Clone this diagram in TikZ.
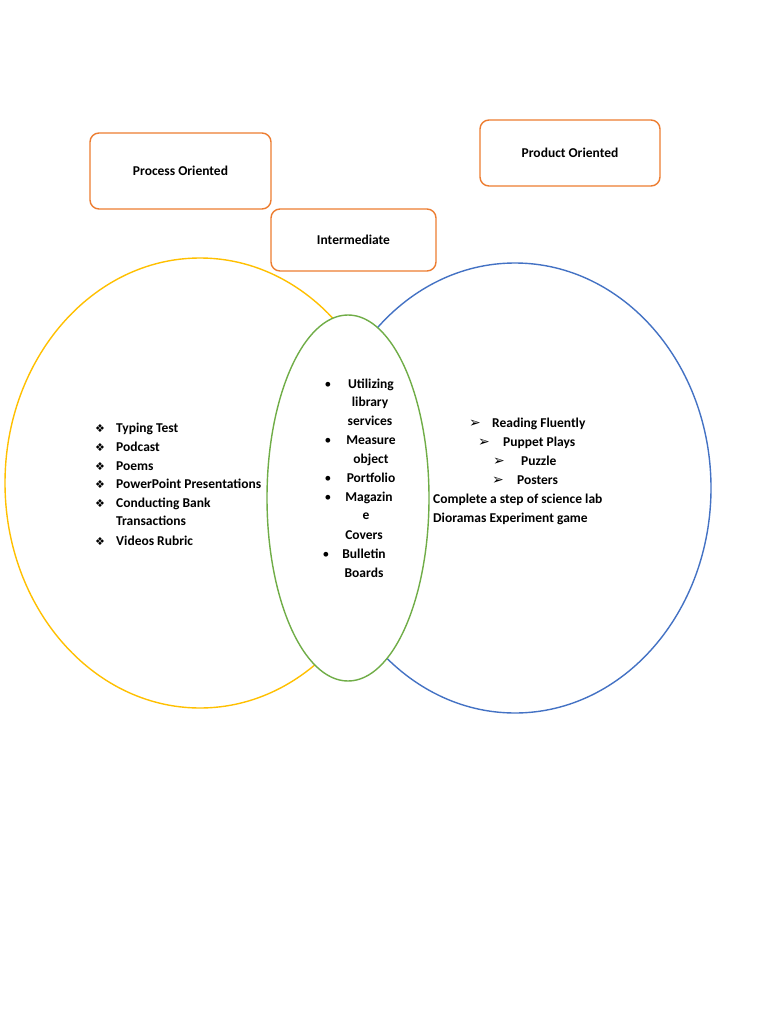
\documentclass[tikz,border=0pt]{standalone}
\usepackage{fontspec}
\setmainfont{Carlito}
\newfontfamily\symfont{DejaVu Sans}
\definecolor{ygold}{HTML}{FFC000}
\definecolor{vblue}{HTML}{4472C4}
\definecolor{vgreen}{HTML}{70AD47}
\definecolor{borange}{HTML}{ED7D31}
\tikzset{
  labelbox/.style={draw=borange, line width=1.4pt, rounded corners=9pt, fill=white, font=\fontsize{13.5}{15}\selectfont\bfseries},
  vcircle/.style={line width=1.4pt},
  txt/.style={anchor=base west, inner sep=0pt, font=\fontsize{13.5}{15}\selectfont\bfseries},
  ctxt/.style={anchor=base, inner sep=0pt, font=\fontsize{13.5}{15}\selectfont\bfseries},
  sym/.style={anchor=base, inner sep=0pt, font=\symfont\fontsize{11}{13}\selectfont},
  arrsym/.style={anchor=base, inner sep=0pt, font=\symfont\fontsize{14}{16}\selectfont},
}
\begin{document}
\begin{tikzpicture}[x=1pt,y=-1pt]
\useasboundingbox[fill=white] (0,0) rectangle (768,1024);
% Venn circles
\draw[vcircle, draw=ygold] (200,483) ellipse [x radius=195, y radius=225];
\draw[vcircle, draw=vblue] (515,488) ellipse [x radius=196, y radius=225];
\draw[vcircle, draw=vgreen, fill=white] (348,498) ellipse [x radius=81, y radius=183];
% header boxes
\node[labelbox, minimum width=181pt, minimum height=76pt] (proc) at (180.5,171) {Process Oriented};
\node[labelbox, minimum width=180pt, minimum height=66pt] (prod) at (570,153) {Product Oriented};
\node[labelbox, minimum width=165pt, minimum height=62pt] (inter) at (353.5,240) {Intermediate};
% left list
\foreach \t/\yy in {Typing Test/432, Podcast/451, Poems/470, PowerPoint Presentations/488, Conducting Bank/507, Videos Rubric/545}{
  \node[sym] at (100,\yy) {❖};
  \node[txt] at (116,\yy) {\t};
}
\node[txt] (trans) at (116,525) {Transactions};
% middle list
\foreach \t/\xx/\yy in {Utilizing/371/388, library/370/406, services/370/425, Measure/371/444, object/371/463, Portfolio/371/482, Magazin/369/501, e/366/519, Covers/364/539, Bulletin/364/558, Boards/364/577}{
  \node[ctxt] at (\xx,\yy) {\t};
}
\foreach \xx/\yy in {328/388,328/444,328/482,328/501,326/558}{
  \node[anchor=base, inner sep=0pt, font=\fontsize{13.5}{15}\selectfont] at (\xx,\yy) {•};
}
% right list
\node[arrsym] at (475,427) {➢};
\node[txt] at (492,427) {Reading Fluently};
\node[arrsym] at (484,446) {➢};
\node[txt] at (503,446) {Puppet Plays};
\node[arrsym] at (499,465) {➢};
\node[txt] at (521,465) {Puzzle};
\node[arrsym] at (498,484) {➢};
\node[txt] at (517,484) {Posters};
\node[txt] at (433,503) {Complete a step of science lab};
\node[txt] at (433,522) {Dioramas Experiment game};
\end{tikzpicture}
\end{document}
